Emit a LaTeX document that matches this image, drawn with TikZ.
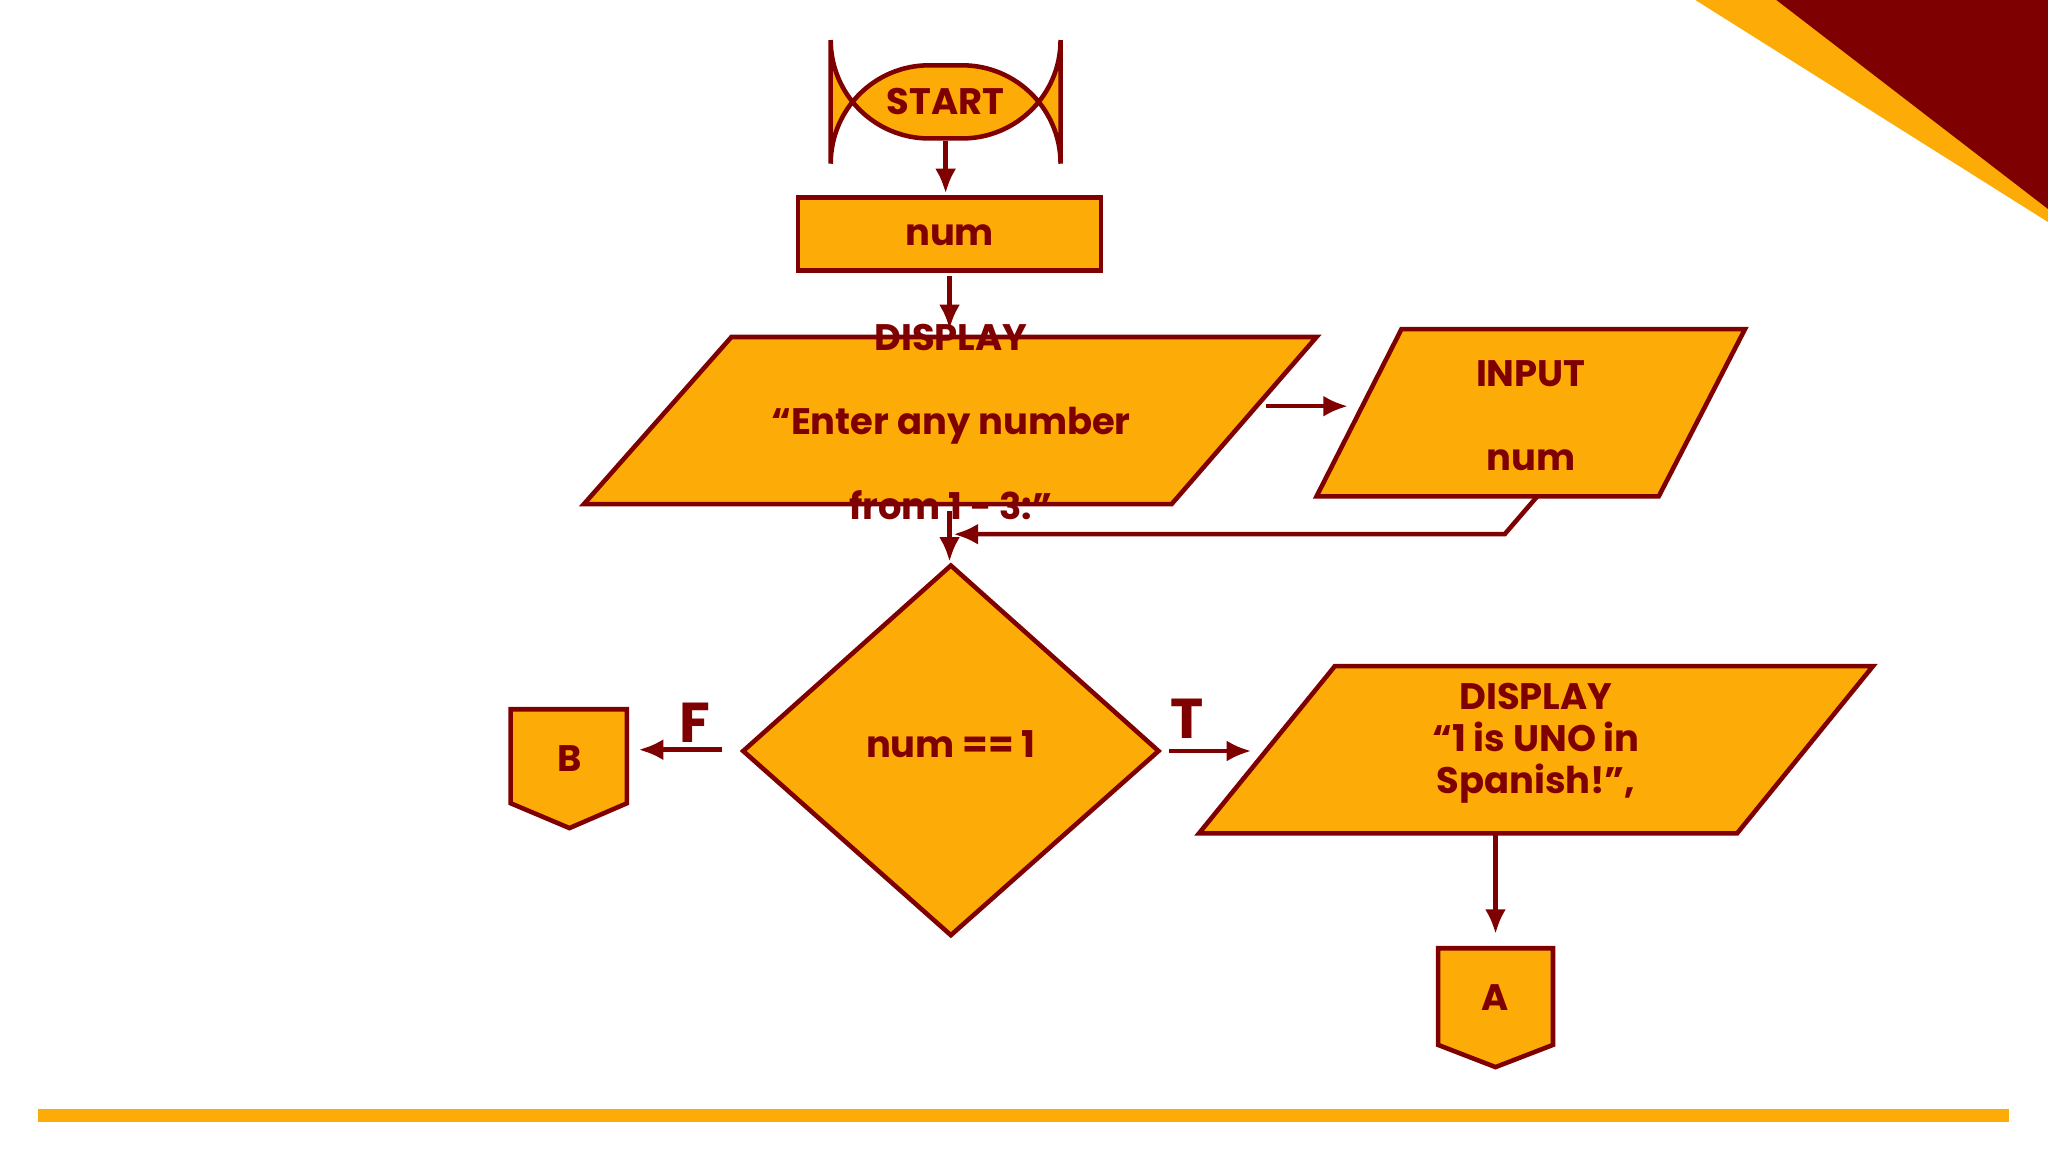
\documentclass[tikz,border=0pt]{standalone}
\usepackage{fontspec}
\setmainfont{Poppins}[BoldFont={Poppins Bold}]
\usetikzlibrary{arrows.meta}
\definecolor{maroon}{HTML}{7F0000}
\definecolor{gold}{HTML}{FDAB07}
\begin{document}
\begin{tikzpicture}[x=0.01306cm,y=-0.01306cm,
    box/.style={draw=maroon,fill=gold,line width=1.3pt,line join=miter},
    txt/.style={text=maroon,font=\bfseries\fontsize{10.5}{12}\selectfont,align=center},
    lbl/.style={text=maroon,font=\bfseries\fontsize{16}{18}\selectfont},
    arr/.style={draw=maroon,line width=1.3pt,-{Latex[length=7pt,width=6pt]}}]

	\useasboundingbox (0,0) rectangle (1568,882);

	% decoration
	\fill[gold] (1298,0) -- (1568,0) -- (1568,170) -- cycle;
	\fill[maroon] (1360,0) -- (1568,0) -- (1568,160) -- cycle;
	\fill[gold] (29,849) rectangle (1538,859);

	% START
	\draw[box,rounded corners=28] (636,50) rectangle (812,106);
	\node[txt] (start) at (724,78) {START};

	% num
	\draw[box] (611,151) rectangle (843,207);
	\node[txt] (num) at (727,180) {num};

	% DISPLAY prompt
	\draw[box] (560,258) -- (1008,258) -- (897,386) -- (447,386) -- cycle;
	\node[txt] (disp) at (728,323) {DISPLAY\\[12pt]“Enter any number\\[12pt]from 1 - 3:”};

	% INPUT num
	\draw[box] (1073,252) -- (1336,252) -- (1270,380) -- (1008,380) -- cycle;
	\node[txt] (input) at (1172,318) {INPUT\\[12pt]num};

	% decision
	\draw[box] (728,433) -- (887,575) -- (728,716) -- (569,575) -- cycle;
	\node[txt] (cond) at (728,570) {num == 1};

	% DISPLAY result
	\draw[box] (1022,510) -- (1434,510) -- (1330,638) -- (918,638) -- cycle;
	\node[txt] (res) at (1176,569) {DISPLAY\\“1 is UNO in\\Spanish!”,};

	% connectors
	\draw[box] (391,543) -- (480,543) -- (480,615) -- (436,634) -- (391,615) -- cycle;
	\node[txt] (offB) at (436,581) {B};
	\draw[box] (1101,726) -- (1189,726) -- (1189,800) -- (1145,817) -- (1101,800) -- cycle;
	\node[txt] (offA) at (1145,764) {A};

	% points for arrows
	\coordinate (s1) at (724,108);  \coordinate (s2) at (724,148);
	\coordinate (n1) at (727,211);  \coordinate (n2) at (727,252);
	\coordinate (d1) at (969,311);  \coordinate (d2) at (1032,311);
	\coordinate (i1) at (1177,380); \coordinate (i2) at (1152,409);
	\coordinate (i3) at (730,409);
	\coordinate (d3) at (727,391);  \coordinate (d4) at (727,430);
	\coordinate (t1) at (895,575);  \coordinate (t2) at (958,575);
	\coordinate (f1) at (553,574);  \coordinate (f2) at (489,574);
	\coordinate (r1) at (1145,638); \coordinate (r2) at (1145,715);

	\draw[arr] (s1) -- (s2);
	\draw[arr] (n1) -- (n2);
	\draw[arr] (d1) -- (d2);
	\draw[arr] (i1) -- (i2) -- (i3);
	\draw[arr] (d3) -- (d4);
	\draw[arr] (t1) -- (t2);
	\draw[arr] (f1) -- (f2);
	\draw[arr] (r1) -- (r2);

	% branch labels
	\node[lbl] (lt) at (909,550) {T};
	\node[lbl] (lf) at (532,553) {F};

\end{tikzpicture}
\end{document}
